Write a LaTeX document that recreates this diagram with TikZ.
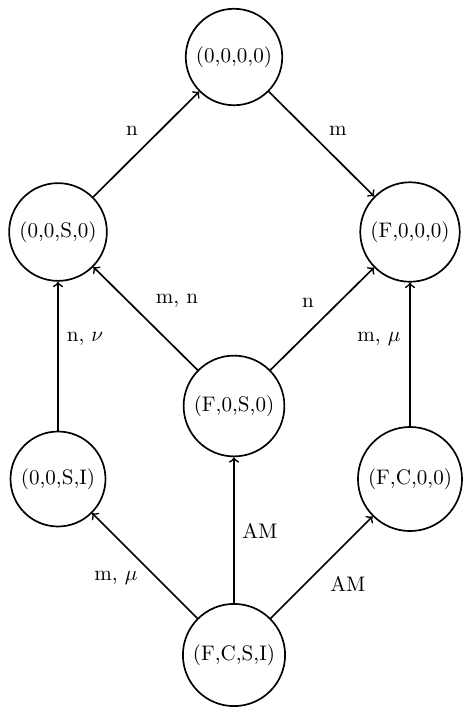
\documentclass[tikz,border=0pt]{standalone}
\begin{document}
\begin{tikzpicture}[x=0.475pt,y=-0.475pt,
  state/.style={circle,draw,thick,inner sep=3.33pt},
  conn/.style={->,thick},
  lbl/.style={inner sep=0pt}]
\useasboundingbox (0,0) rectangle (474,717);
\node[state] (top) at (234,57) {(0,0,0,0)};
\node[state] (l1) at (58,232) {(0,0,S,0)};
\node[state] (r1) at (410,232) {(F,0,0,0)};
\node[state] (mid) at (234,406) {(F,0,S,0)};
\node[state] (l2) at (58,479) {(0,0,S,I)};
\node[state] (r2) at (410,479) {(F,C,0,0)};
\node[state] (bot) at (234,655) {(F,C,S,I)};
\draw[conn] (l1) -- (top);
\draw[conn] (top) -- (r1);
\draw[conn] (mid) -- (l1);
\draw[conn] (mid) -- (r1);
\draw[conn] (l2) -- (l1);
\draw[conn] (r2) -- (r1);
\draw[conn] (bot) -- (l2);
\draw[conn] (bot) -- (mid);
\draw[conn] (bot) -- (r2);
\node[lbl] (t1) at (132,131) {n};
\node[lbl] (t2) at (338,131) {m};
\node[lbl] (t3) at (177,301) {m, n};
\node[lbl] (t4) at (308,303) {n};
\node[lbl] (t5) at (85,339) {n, $\nu$};
\node[lbl] (t6) at (379,339) {m, $\mu$};
\node[lbl] (t7) at (116,578) {m, $\mu$};
\node[lbl] (t8) at (260,531) {AM};
\node[lbl] (t9) at (348,584) {AM};
\end{tikzpicture}
\end{document}
